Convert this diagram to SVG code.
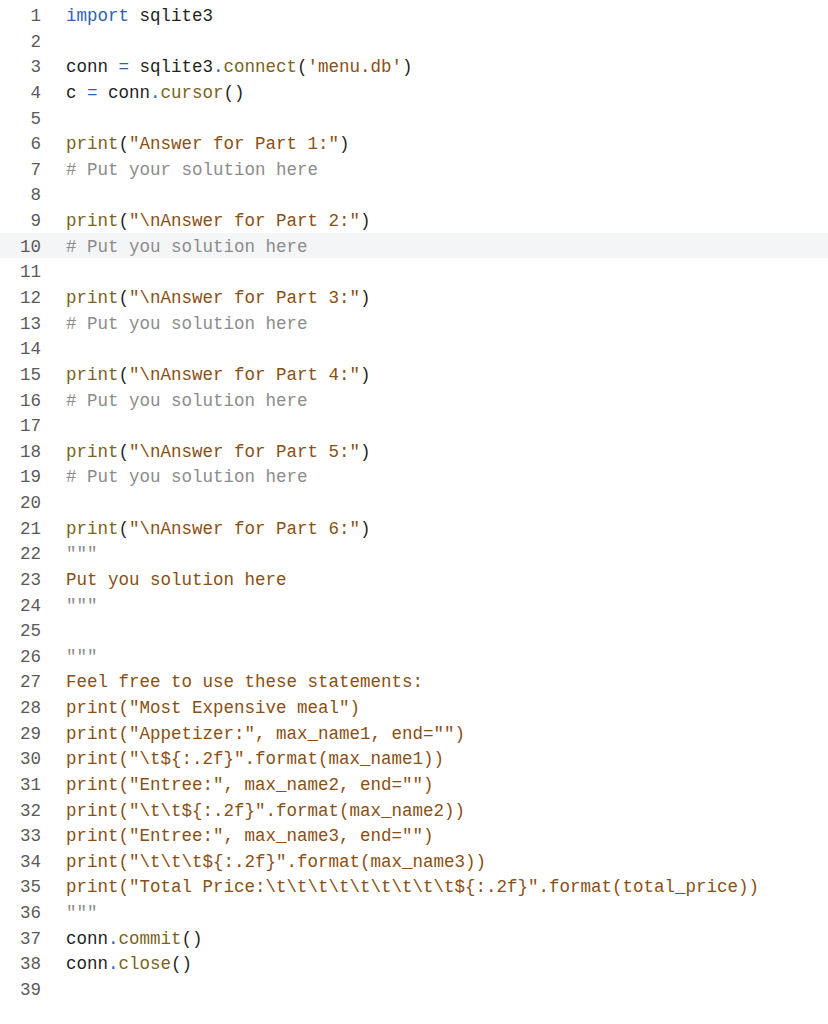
<svg xmlns="http://www.w3.org/2000/svg" width="828" height="1024" viewBox="0 0 828 1024">
<style>
text{font-family:"Liberation Mono","DejaVu Sans Mono",monospace;font-size:17.5px;white-space:pre}
.n{fill:#5a5a5a;text-anchor:end}
.c{fill:#1f1f1f}
.k{fill:#2f62b5}
.s{fill:#8a4f12}
.f{fill:#7a6420}
.g{fill:#8c8c8c}
</style>
<rect width="828" height="1024" fill="#fff"/>
<rect x="0" y="233" width="828" height="25" fill="#f4f5f6"/>
<g id="gutter">
<text class="n" x="41" y="21">1</text><text class="n" x="41" y="46.6">2</text><text class="n" x="41" y="72.3">3</text><text class="n" x="41" y="97.9">4</text><text class="n" x="41" y="123.5">5</text><text class="n" x="41" y="149.2">6</text><text class="n" x="41" y="174.8">7</text><text class="n" x="41" y="200.4">8</text><text class="n" x="41" y="226">9</text><text class="n" x="41" y="251.7" fill="#222">10</text><text class="n" x="41" y="277.3">11</text><text class="n" x="41" y="302.9">12</text><text class="n" x="41" y="328.6">13</text><text class="n" x="41" y="354.2">14</text><text class="n" x="41" y="379.8">15</text><text class="n" x="41" y="405.5">16</text><text class="n" x="41" y="431.1">17</text><text class="n" x="41" y="456.7">18</text><text class="n" x="41" y="482.3">19</text><text class="n" x="41" y="508">20</text><text class="n" x="41" y="533.6">21</text><text class="n" x="41" y="559.2">22</text><text class="n" x="41" y="584.9">23</text><text class="n" x="41" y="610.5">24</text><text class="n" x="41" y="636.1">25</text><text class="n" x="41" y="661.8">26</text><text class="n" x="41" y="687.4">27</text><text class="n" x="41" y="713">28</text><text class="n" x="41" y="738.6">29</text><text class="n" x="41" y="764.3">30</text><text class="n" x="41" y="789.9">31</text><text class="n" x="41" y="815.5">32</text><text class="n" x="41" y="841.2">33</text><text class="n" x="41" y="866.8">34</text><text class="n" x="41" y="892.4">35</text><text class="n" x="41" y="918.1">36</text><text class="n" x="41" y="943.7">37</text><text class="n" x="41" y="969.3">38</text><text class="n" x="41" y="994.9">39</text>
</g>
<g id="code">
<text x="66" y="21"><tspan class="k">import</tspan><tspan class="c"> sqlite3</tspan></text>
<text x="66" y="72.3"><tspan class="c">conn </tspan><tspan class="k">=</tspan><tspan class="c"> sqlite3</tspan><tspan class="k">.</tspan><tspan class="f">connect</tspan><tspan class="c">(</tspan><tspan class="s">'menu.db'</tspan><tspan class="c">)</tspan></text>
<text x="66" y="97.9"><tspan class="c">c </tspan><tspan class="k">=</tspan><tspan class="c"> conn</tspan><tspan class="k">.</tspan><tspan class="f">cursor</tspan><tspan class="c">()</tspan></text>
<text x="66" y="149.2" class="s"><tspan class="f">print</tspan><tspan class="c">(</tspan>"Answer for Part 1:"<tspan class="c">)</tspan></text>
<text x="66" y="174.8" class="g"># Put your solution here</text>
<text x="66" y="226" class="s"><tspan class="f">print</tspan><tspan class="c">(</tspan>"\nAnswer for Part 2:"<tspan class="c">)</tspan></text>
<text x="66" y="251.7" class="g"># Put you solution here</text>
<text x="66" y="302.9" class="s"><tspan class="f">print</tspan><tspan class="c">(</tspan>"\nAnswer for Part 3:"<tspan class="c">)</tspan></text>
<text x="66" y="328.6" class="g"># Put you solution here</text>
<text x="66" y="379.8" class="s"><tspan class="f">print</tspan><tspan class="c">(</tspan>"\nAnswer for Part 4:"<tspan class="c">)</tspan></text>
<text x="66" y="405.5" class="g"># Put you solution here</text>
<text x="66" y="456.7" class="s"><tspan class="f">print</tspan><tspan class="c">(</tspan>"\nAnswer for Part 5:"<tspan class="c">)</tspan></text>
<text x="66" y="482.3" class="g"># Put you solution here</text>
<text x="66" y="533.6" class="s"><tspan class="f">print</tspan><tspan class="c">(</tspan>"\nAnswer for Part 6:"<tspan class="c">)</tspan></text>
<text x="66" y="559.2" class="g">"""</text>
<text x="66" y="584.9" class="s">Put you solution here</text>
<text x="66" y="610.5" class="g">"""</text>
<text x="66" y="661.8" class="g">"""</text>
<text x="66" y="687.4" class="s">Feel free to use these statements:</text>
<text x="66" y="713" class="s">print("Most Expensive meal")</text>
<text x="66" y="738.6" class="s">print("Appetizer:", max_name1, end="")</text>
<text x="66" y="764.3" class="s">print("\t${:.2f}".format(max_name1))</text>
<text x="66" y="789.9" class="s">print("Entree:", max_name2, end="")</text>
<text x="66" y="815.5" class="s">print("\t\t${:.2f}".format(max_name2))</text>
<text x="66" y="841.2" class="s">print("Entree:", max_name3, end="")</text>
<text x="66" y="866.8" class="s">print("\t\t\t${:.2f}".format(max_name3))</text>
<text x="66" y="892.4" class="s">print("Total Price:\t\t\t\t\t\t\t\t\t${:.2f}".format(total_price))</text>
<text x="66" y="918.1" class="g">"""</text>
<text x="66" y="943.7"><tspan class="c">conn</tspan><tspan class="k">.</tspan><tspan class="f">commit</tspan><tspan class="c">()</tspan></text>
<text x="66" y="969.3"><tspan class="c">conn</tspan><tspan class="k">.</tspan><tspan class="f">close</tspan><tspan class="c">()</tspan></text>
</g>
</svg>
